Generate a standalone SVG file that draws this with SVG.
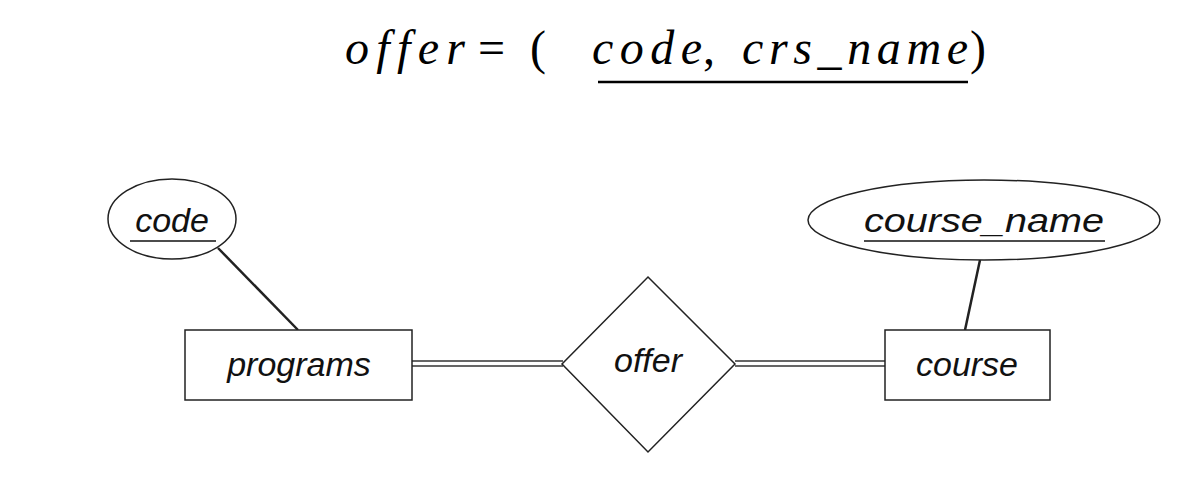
<svg xmlns="http://www.w3.org/2000/svg" width="1189" height="479" viewBox="0 0 1189 479">
<style>
.s{fill:#fff;stroke:#222;stroke-width:1.5}
.l{font-family:"Liberation Sans",Arial,sans-serif;font-style:italic;font-size:34px;fill:#111;text-anchor:middle}
.m{font-family:"Liberation Serif","Times New Roman",serif;font-size:48px;fill:#000}
.i{font-style:italic}
.c{stroke:#222;stroke-width:2.5;fill:none}
.d{stroke:#333;stroke-width:1.3;fill:none}
</style>
<rect width="1189" height="479" fill="#fff"/>
<g id="title">
<text class="m i" x="345" y="64" textLength="120" lengthAdjust="spacing">offer</text>
<text class="m" x="478" y="64">=</text>
<text class="m" x="530" y="64">(</text>
<text class="m i" x="592" y="64" textLength="110" lengthAdjust="spacing">code</text>
<text class="m" x="703" y="64">,</text>
<text class="m i" x="742" y="64" textLength="226" lengthAdjust="spacing">crs_name</text>
<text class="m" x="970" y="64">)</text>
<line x1="598" y1="82" x2="968" y2="82" stroke="#000" stroke-width="2.5"/>
</g>
<g id="connectors">
<line class="c" x1="218" y1="248" x2="298" y2="330"/>
<line class="c" x1="980" y1="260" x2="965" y2="330"/>
<line class="d" x1="412" y1="361" x2="563" y2="361"/>
<line class="d" x1="412" y1="366" x2="563" y2="366"/>
<line class="d" x1="735" y1="361" x2="885" y2="361"/>
<line class="d" x1="735" y1="366" x2="885" y2="366"/>
</g>
<g id="code">
<ellipse class="s" cx="172" cy="219" rx="64" ry="40"/>
<text class="l" x="172" y="232">code</text>
<line x1="130" y1="241" x2="216" y2="241" stroke="#111" stroke-width="1.5"/>
</g>
<g id="course_name">
<ellipse class="s" cx="984" cy="220" rx="176" ry="40"/>
<text class="l" x="984" y="232" textLength="240" lengthAdjust="spacingAndGlyphs">course_name</text>
<line x1="864" y1="241" x2="1105" y2="241" stroke="#111" stroke-width="1.5"/>
</g>
<g id="programs">
<rect class="s" x="185" y="330" width="227" height="70"/>
<text class="l" x="299" y="376">programs</text>
</g>
<g id="offer">
<polygon class="s" points="648,277 735,364 648,452 562,364"/>
<text class="l" x="648" y="372">offer</text>
</g>
<g id="course">
<rect class="s" x="885" y="330" width="165" height="70"/>
<text class="l" x="967" y="376">course</text>
</g>
</svg>
